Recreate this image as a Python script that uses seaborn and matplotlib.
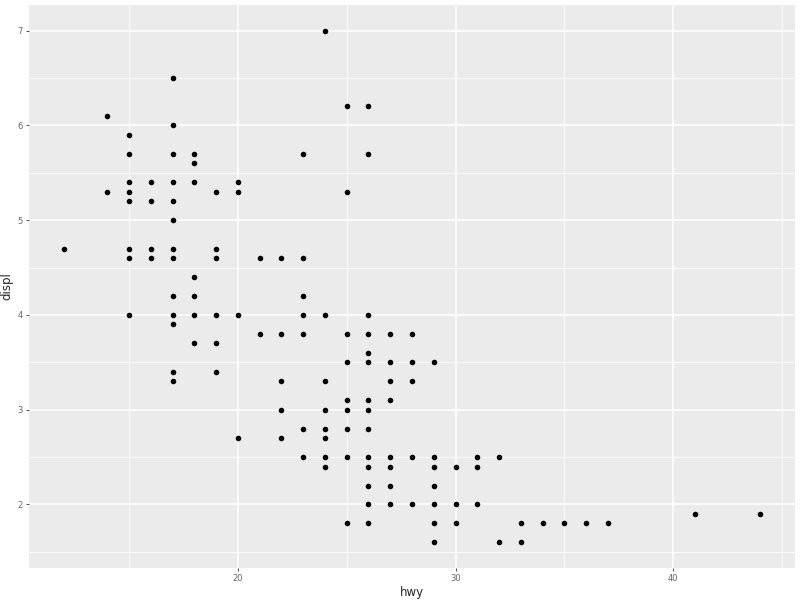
import matplotlib
matplotlib.use("Agg")
import matplotlib.pyplot as plt
import seaborn as sns
import pandas as pd

# mpg: hwy vs displ (distinct points)
hwy = [12,
       14, 14,
       15, 15, 15, 15, 15, 15, 15, 15,
       16, 16, 16, 16,
       17, 17, 17, 17, 17, 17, 17, 17, 17, 17, 17, 17, 17,
       18, 18, 18, 18, 18, 18, 18,
       19, 19, 19, 19, 19, 19,
       20, 20, 20, 20,
       21, 21,
       22, 22, 22, 22, 22,
       23, 23, 23, 23, 23, 23, 23,
       24, 24, 24, 24, 24, 24, 24, 24,
       25, 25, 25, 25, 25, 25, 25, 25, 25,
       26, 26, 26, 26, 26, 26, 26, 26, 26, 26, 26, 26, 26, 26,
       27, 27, 27, 27, 27, 27, 27, 27,
       28, 28, 28, 28, 28,
       29, 29, 29, 29, 29, 29, 29,
       30, 30, 30,
       31, 31, 31,
       32, 32,
       33, 33,
       34, 35, 36, 37, 41, 44]
displ = [4.7,
         6.1, 5.3,
         5.9, 5.7, 5.4, 5.3, 5.2, 4.7, 4.6, 4.0,
         5.4, 5.2, 4.7, 4.6,
         6.5, 6.0, 5.7, 5.4, 5.2, 5.0, 4.7, 4.6, 4.2, 4.0, 3.9, 3.4, 3.3,
         5.7, 5.6, 5.4, 4.4, 4.2, 4.0, 3.7,
         5.3, 4.7, 4.6, 4.0, 3.7, 3.4,
         5.4, 5.3, 4.0, 2.7,
         4.6, 3.8,
         4.6, 3.8, 3.3, 3.0, 2.7,
         5.7, 4.6, 4.2, 4.0, 3.8, 2.8, 2.5,
         7.0, 4.0, 3.3, 3.0, 2.8, 2.7, 2.5, 2.4,
         6.2, 5.3, 3.8, 3.5, 3.1, 3.0, 2.8, 2.5, 1.8,
         6.2, 5.7, 4.0, 3.8, 3.6, 3.5, 3.1, 3.0, 2.8, 2.5, 2.4, 2.2, 2.0, 1.8,
         3.8, 3.5, 3.3, 3.1, 2.5, 2.4, 2.2, 2.0,
         3.8, 3.5, 3.3, 2.5, 2.0,
         3.5, 2.5, 2.4, 2.2, 2.0, 1.8, 1.6,
         2.4, 2.0, 1.8,
         2.5, 2.4, 2.0,
         2.5, 1.6,
         1.8, 1.6,
         1.8, 1.8, 1.8, 1.8, 1.9, 1.9]

mpg = pd.DataFrame({"hwy": hwy, "displ": displ})

sns.set_style("darkgrid", {"axes.facecolor": "#EBEBEB", "grid.color": "white"})

fig = plt.figure(figsize=(8, 6), dpi=100)
ax = fig.add_axes([29 / 800, 32 / 600, 766 / 800, 563 / 600])

sns.scatterplot(data=mpg, x="hwy", y="displ", color="black", s=16,
                linewidth=0, ax=ax)

ax.set_xlim(10.4, 45.6)
ax.set_ylim(1.33, 7.27)
ax.set_xticks([20, 30, 40])
ax.set_yticks([2, 3, 4, 5, 6, 7])
ax.set_xticks([15, 25, 35, 45], minor=True)
ax.set_yticks([1.5, 2.5, 3.5, 4.5, 5.5, 6.5], minor=True)
ax.grid(which="major", color="white", linewidth=1.1)
ax.grid(which="minor", color="white", linewidth=0.55)
ax.set_axisbelow(True)
for s in ax.spines.values():
    s.set_visible(False)

ax.tick_params(which="major", length=2.5, width=0.6, color="#333333",
               labelsize=6, labelcolor="#666666", pad=2, bottom=True, left=True)
ax.tick_params(which="minor", length=0)
ax.set_xlabel("hwy", fontsize=8.5, labelpad=2)
ax.set_ylabel("displ", fontsize=8.5, labelpad=3)

fig.savefig("out.png", dpi=100)
